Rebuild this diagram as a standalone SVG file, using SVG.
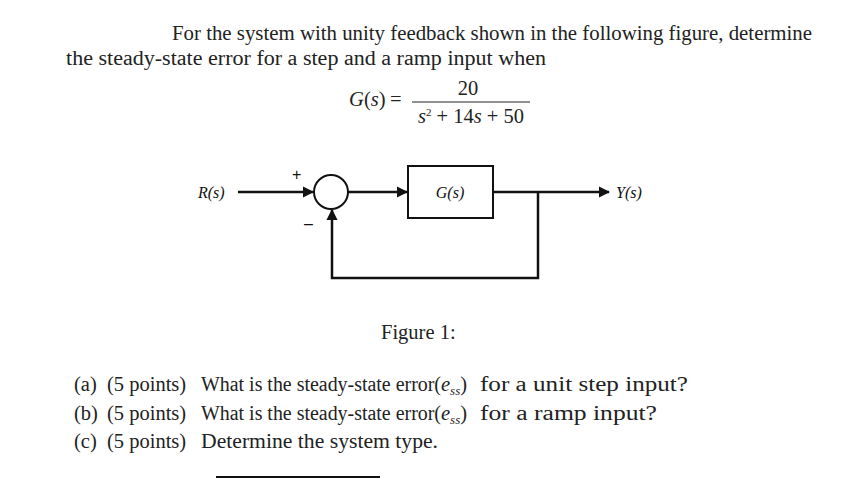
<svg xmlns="http://www.w3.org/2000/svg" width="849" height="479" viewBox="0 0 849 479">
<style>
.t{font-family:"Liberation Serif",serif;font-size:20.5px;fill:#222}
.d{font-family:"Liberation Serif",serif;font-size:16px;font-style:italic;fill:#111}
.w{stroke:#111;stroke-width:2.5;fill:none}
</style>
<defs><marker id="a" viewBox="0 0 10 10" refX="9" refY="5" markerWidth="4.5" markerHeight="4.5" orient="auto"><path d="M0,0L10,5L0,10z" fill="#111"/></marker></defs>
<rect width="849" height="479" fill="#fff"/>
<text class="t" x="172" y="40" textLength="640" lengthAdjust="spacingAndGlyphs">For the system with unity feedback shown in the following figure, determine</text>
<text class="t" x="66" y="65" textLength="480" lengthAdjust="spacingAndGlyphs">the steady-state error for a step and a ramp input when</text>
<text class="t" x="349" y="106" font-style="italic">G</text><text class="t" x="364" y="106">(<tspan font-style="italic">s</tspan>)</text><text class="t" x="390" y="106">=</text>
<text class="t" x="468" y="95" text-anchor="middle" font-size="17">20</text>
<line x1="412" y1="102" x2="530" y2="102" stroke="#222" stroke-width="1"/>
<text class="t" x="471" y="123" text-anchor="middle" font-size="18"><tspan font-style="italic">s</tspan><tspan font-size="11" dy="-7">2</tspan><tspan dy="7"> + 14</tspan><tspan font-style="italic">s</tspan> + 50</text>
<g id="R"><text class="d" x="198" y="198">R(s)</text></g>
<g id="sum"><circle cx="331" cy="192" r="17" fill="#fff" stroke="#111" stroke-width="2"/>
<text x="292" y="180" font-family="Liberation Sans,sans-serif" font-size="16" fill="#111">+</text>
<text x="304" y="229" font-family="Liberation Sans,sans-serif" font-size="16" fill="#111">–</text></g>
<g id="G"><rect x="408" y="166" width="85" height="52" fill="#fff" stroke="#111" stroke-width="2"/><text class="d" x="450" y="198" text-anchor="middle">G(s)</text></g>
<g id="Y"><text class="d" x="616" y="198">Y(s)</text></g>
<g id="connectors">
<line class="w" x1="238" y1="192" x2="313" y2="192" marker-end="url(#a)"/>
<line class="w" x1="348" y1="192" x2="407" y2="192" marker-end="url(#a)"/>
<line class="w" x1="493" y1="192" x2="609" y2="192" marker-end="url(#a)"/>
<polyline class="w" points="538,192 538,278 332,278 332,210" marker-end="url(#a)"/>
</g>
<text class="t" x="381" y="339">Figure 1:</text>
<text class="t" y="391"><tspan x="74">(a)</tspan><tspan x="107">(5 points)</tspan><tspan x="201" textLength="240" lengthAdjust="spacingAndGlyphs">What is the steady-state error(</tspan><tspan font-style="italic">e</tspan><tspan font-size="13" font-style="italic" dy="4">ss</tspan><tspan dy="-4">)</tspan><tspan x="480" textLength="208" lengthAdjust="spacingAndGlyphs">for a unit step input?</tspan></text>
<text class="t" y="420"><tspan x="74">(b)</tspan><tspan x="107">(5 points)</tspan><tspan x="201" textLength="240" lengthAdjust="spacingAndGlyphs">What is the steady-state error(</tspan><tspan font-style="italic">e</tspan><tspan font-size="13" font-style="italic" dy="4">ss</tspan><tspan dy="-4">)</tspan><tspan x="480" textLength="177" lengthAdjust="spacingAndGlyphs">for a ramp input?</tspan></text>
<text class="t" y="448"><tspan x="74">(c)</tspan><tspan x="107">(5 points)</tspan><tspan x="201" textLength="237" lengthAdjust="spacingAndGlyphs">Determine the system type.</tspan></text>
<line x1="216" y1="477" x2="380" y2="477" stroke="#111" stroke-width="2"/>
</svg>
